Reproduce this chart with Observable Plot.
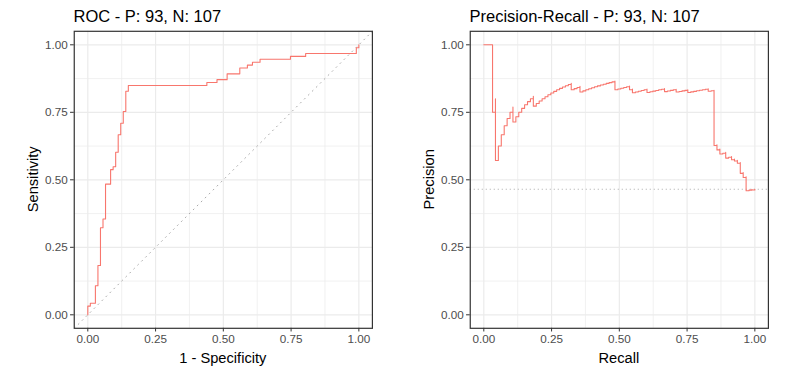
<!DOCTYPE html>
<html><head><meta charset="utf-8">
<script src="https://cdn.jsdelivr.net/npm/d3@7"></script>
<script src="https://cdn.jsdelivr.net/npm/@observablehq/plot@0.6"></script>
<style>
html,body{margin:0;padding:0;background:#fff;}
#chart{position:relative;width:792px;height:373px;overflow:hidden;background:#fff;}
#chart > svg{position:absolute;top:0;}
</style></head><body><div id="chart"></div>
<script>
// ---- data ----
const nPos = 93, nNeg = 107;
// cases ranked by descending score, as alternating runs (positives first)
const posRuns = [3,1,6,7,13,3,12,5,1,5,6,4,4,7,2,1,1,2,2,1,1,1,1,1,2,1];
const negRuns = [1,2,1,1,1,1,2,1,1,1,1,1,1,1,31,4,4,5,3,2,3,12,6,20,1];
const majorTicks = [0, 0.25, 0.5, 0.75, 1];
const minorTicks = [0.125, 0.375, 0.625, 0.875];
const axisDomain = [-0.05, 1.05];
const titles = ["ROC - P: 93, N: 107", "Precision-Recall - P: 93, N: 107"];
const xTitles = ["1 - Specificity", "Recall"];
const yTitles = ["Sensitivity", "Precision"];

// ---- derived curves ----
let tp = 0, fp = 0;
const roc = [{x: 0, y: 0}];
const pr = [{x: 0, y: 1}];
posRuns.forEach((p, i) => {
  for (let k = 0; k < p; k++) { tp++; roc.push({x: fp / nNeg, y: tp / nPos}); pr.push({x: tp / nPos, y: tp / (tp + fp)}); }
  const n = negRuns[i] || 0;
  for (let k = 0; k < n; k++) { fp++; roc.push({x: fp / nNeg, y: tp / nPos}); pr.push({x: tp / nPos, y: tp / (tp + fp)}); }
});
const baseline = nPos / (nPos + nNeg);

const FONT = "'Liberation Sans', Arial, sans-serif";
const RED = "#F8766D";
const fmt = d3.format(".2f");

function panel(extra) {
  return Plot.plot({
    width: 396, height: 373,
    marginLeft: 73.75, marginRight: 24.1, marginTop: 30.8, marginBottom: 45.2,
    style: {fontFamily: FONT, fontSize: "11.7px", color: "#4D4D4D", background: "transparent", overflow: "visible"},
    x: {domain: axisDomain, label: null},
    y: {domain: axisDomain, label: null},
    marks: [
      Plot.ruleX(minorTicks, {stroke: "#EBEBEB", strokeWidth: 0.7}),
      Plot.ruleY(minorTicks, {stroke: "#EBEBEB", strokeWidth: 0.7}),
      Plot.ruleX(majorTicks, {stroke: "#EBEBEB", strokeWidth: 1.2}),
      Plot.ruleY(majorTicks, {stroke: "#EBEBEB", strokeWidth: 1.2}),
      ...extra,
      Plot.axisX(majorTicks, {tickFormat: fmt, tickSize: 3.7, tickPadding: 2.9, label: null, stroke: "#333333", fill: "#4D4D4D", fontSize: 11.7}),
      Plot.axisY(majorTicks, {tickFormat: fmt, tickSize: 3.7, tickPadding: 2.9, label: null, stroke: "#333333", fill: "#4D4D4D", fontSize: 11.7}),
      Plot.frame({stroke: "#333333", strokeWidth: 1.2})
    ]
  });
}

const diag = axisDomain.map(d => ({x: d, y: d}));
const left = panel([
  Plot.line(diag, {x: "x", y: "y", stroke: "#AAAAAA", strokeWidth: 1, strokeDasharray: "1,4.6"}),
  Plot.line(roc, {x: "x", y: "y", stroke: RED, strokeWidth: 1.1})
]);
const right = panel([
  Plot.ruleY([baseline], {stroke: "#AAAAAA", strokeWidth: 1, strokeDasharray: "1,3"}),
  Plot.line(pr, {x: "x", y: "y", curve: "step-after", stroke: RED, strokeWidth: 1.1})
]);
left.style.left = "0px";
right.style.left = "396px";
const chart = document.getElementById("chart");
chart.appendChild(left);
chart.appendChild(right);

// titles and axis titles
const overlay = d3.create("svg").attr("width", 792).attr("height", 373)
  .style("position", "absolute").style("left", "0px").style("top", "0px")
  .style("font-family", FONT);
[0, 1].forEach(i => {
  const ox = i * 396;
  overlay.append("text").attr("x", ox + 73.5).attr("y", 22).attr("font-size", 16.5).attr("fill", "#000").text(titles[i]);
  overlay.append("text").attr("x", ox + 222.8).attr("y", 363).attr("font-size", 14.67).attr("fill", "#000")
    .attr("text-anchor", "middle").text(xTitles[i]);
  overlay.append("text").attr("transform", `translate(${ox + 37.8},179.3) rotate(-90)`).attr("font-size", 14.67).attr("fill", "#000")
    .attr("text-anchor", "middle").text(yTitles[i]);
});
chart.appendChild(overlay.node());
</script></body></html>
